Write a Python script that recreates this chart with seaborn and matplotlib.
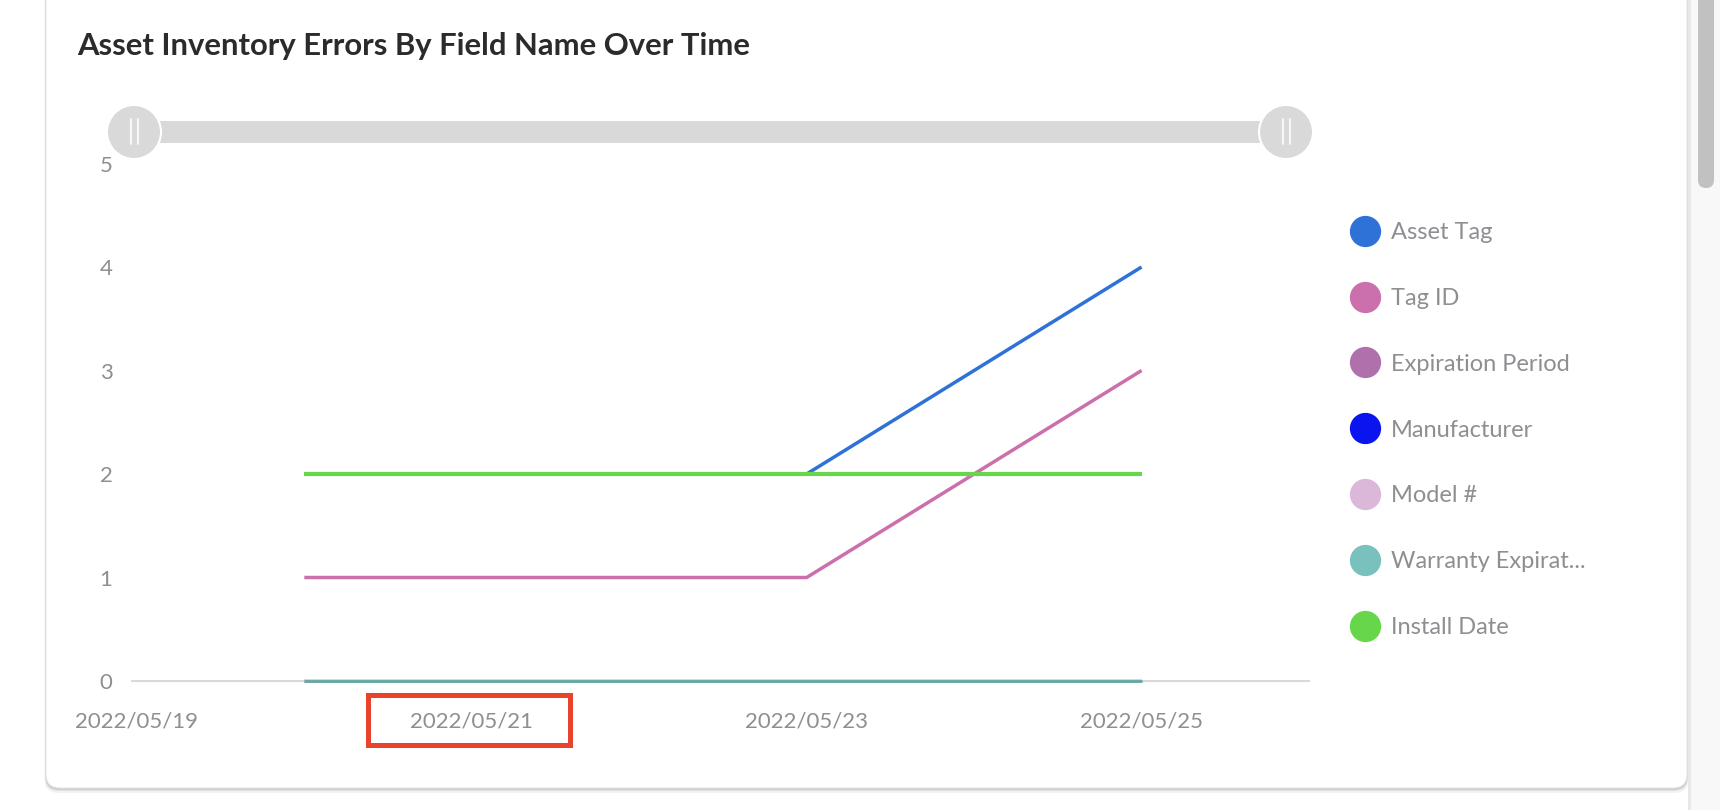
import seaborn as sns
import matplotlib.pyplot as plt
import matplotlib.dates as mdates
from matplotlib.patches import Rectangle, Circle, FancyBboxPatch
from matplotlib.lines import Line2D
import pandas as pd

# data
dates = ["2022-05-20", "2022-05-23", "2022-05-25"]
fields = ["Asset Tag", "Tag ID", "Expiration Period", "Manufacturer",
          "Model #", "Warranty Expirat...", "Install Date"]
asset_tag = [2, 2, 4]
tag_id = [1, 1, 3]
expiration_period = [0, 0, 0]
manufacturer = [0, 0, 0]
model_no = [0, 0, 0]
warranty = [0, 0, 0]
install_date = [2, 2, 2]
tick_dates = ["2022-05-19", "2022-05-21", "2022-05-23", "2022-05-25"]
y_ticks = [0, 1, 2, 3, 4, 5]

colors = ["#2e72d8", "#cc6fad", "#b070ab", "#0a14ee",
          "#dbb8da", "#79c1bd", "#67d64a"]

series = [asset_tag, tag_id, expiration_period, manufacturer,
          model_no, warranty, install_date]
rows = []
for name, vals in zip(fields, series):
    for d, v in zip(dates, vals):
        rows.append({"date": pd.Timestamp(d), "field": name, "errors": v})
df = pd.DataFrame(rows)

sns.set_style("white")
plt.rcParams["font.family"] = ["Lato", "DejaVu Sans"]

W, H = 1720, 810
fig = plt.figure(figsize=(W / 100, H / 100), dpi=100)
fig.patch.set_facecolor("white")

# background layer in pixel coords: card, slider, scrollbar, highlight box
bg = fig.add_axes([0, 0, 1, 1], zorder=0)
bg.set_xlim(0, W)
bg.set_ylim(H, 0)
bg.axis("off")

for off, a in [(5, 0.05), (3, 0.08), (1.5, 0.12)]:
    bg.add_patch(FancyBboxPatch((46 - off * 0.3, -40), 1641 + off * 0.6, 828 + off,
                                boxstyle="round,pad=0,rounding_size=14",
                                fc="#000000", ec="none", alpha=a))
bg.add_patch(FancyBboxPatch((46, -40), 1641, 828,
                            boxstyle="round,pad=0,rounding_size=14",
                            fc="white", ec="#e8e8e8", lw=0.8))

# scrollbar
bg.add_patch(Rectangle((1688, 0), 32, H, fc="#f8f8f8", ec="none"))
bg.add_patch(Rectangle((1688, 0), 3, H, fc="#e8e8e8", ec="none"))
bg.add_patch(FancyBboxPatch((1698, -20), 16, 208,
                            boxstyle="round,pad=0,rounding_size=8",
                            fc="#c1c1c1", ec="none"))

# data zoom slider
bg.add_patch(Rectangle((134, 121), 1152, 22, fc="#d9d9d9", ec="none"))
for cx in (134, 1286):
    bg.add_patch(Circle((cx, 132), 27, fc="#d9d9d9", ec="white", lw=1.5))
    for dx in (-3.5, 3.5):
        bg.plot([cx + dx, cx + dx], [119, 144], color="white", lw=1.2)

# red highlight box around a tick label
bg.add_patch(Rectangle((367.5, 694.5), 202, 50, fill=False,
                       ec="#e9442b", lw=3.6))

# main chart
ax = fig.add_axes([132 / W, 1 - 681 / H, (1309 - 132) / W, (681 - 163.5) / H], zorder=1)
ax.patch.set_alpha(0)

sns.lineplot(data=df, x="date", y="errors", hue="field", hue_order=fields,
             palette=dict(zip(fields, colors)), linewidth=2.5, ax=ax,
             legend=False)
for ln in ax.lines:
    ln.set_clip_on(False)
    ln.set_solid_capstyle("butt")
# the zero series sit under the warranty line
for ln in ax.lines[2:5]:
    ln.set_linewidth(1.6)
ax.lines[5].set_linewidth(2.0)
ax.lines[5].set_color("#62a8a2")
ax.lines[6].set_linewidth(3.0)

ax.set_xlim(pd.Timestamp("2022-05-19") - pd.Timedelta(hours=0.7),
            pd.Timestamp("2022-05-26"))
ax.set_ylim(0, 5)
ax.set_xticks([pd.Timestamp(d) for d in tick_dates])
ax.xaxis.set_major_formatter(mdates.DateFormatter("%Y/%m/%d"))
ax.set_yticks(y_ticks)
ax.set_xlabel("")
ax.set_ylabel("")

for s in ["top", "right", "left"]:
    ax.spines[s].set_visible(False)
ax.spines["bottom"].set_color("#d9d9d9")
ax.spines["bottom"].set_linewidth(1.5)
ax.spines["bottom"].set_zorder(0)
ax.tick_params(axis="both", length=0, labelsize=16, labelcolor="#8e8e93")
ax.tick_params(axis="y", pad=14)
ax.tick_params(axis="x", pad=22)

handles = [Line2D([0], [0], marker="o", ls="", markersize=21.5,
                  markerfacecolor=c, markeredgecolor=c) for c in colors]
ax.legend(handles, fields, loc="upper left",
          bbox_to_anchor=(1350 / W, 1 - 222 / H), bbox_transform=fig.transFigure,
          frameon=False, fontsize=17, labelcolor="#8e8e93", labelspacing=1.9,
          handlelength=1.25, handletextpad=0.5, borderpad=0, borderaxespad=0)

fig.text(77 / W, 1 - 55 / H, "Asset Inventory Errors By Field Name Over Time",
         fontsize=22.3, fontweight="bold", color="#2b2b2e", va="baseline")

fig.savefig("out.png", dpi=100)
